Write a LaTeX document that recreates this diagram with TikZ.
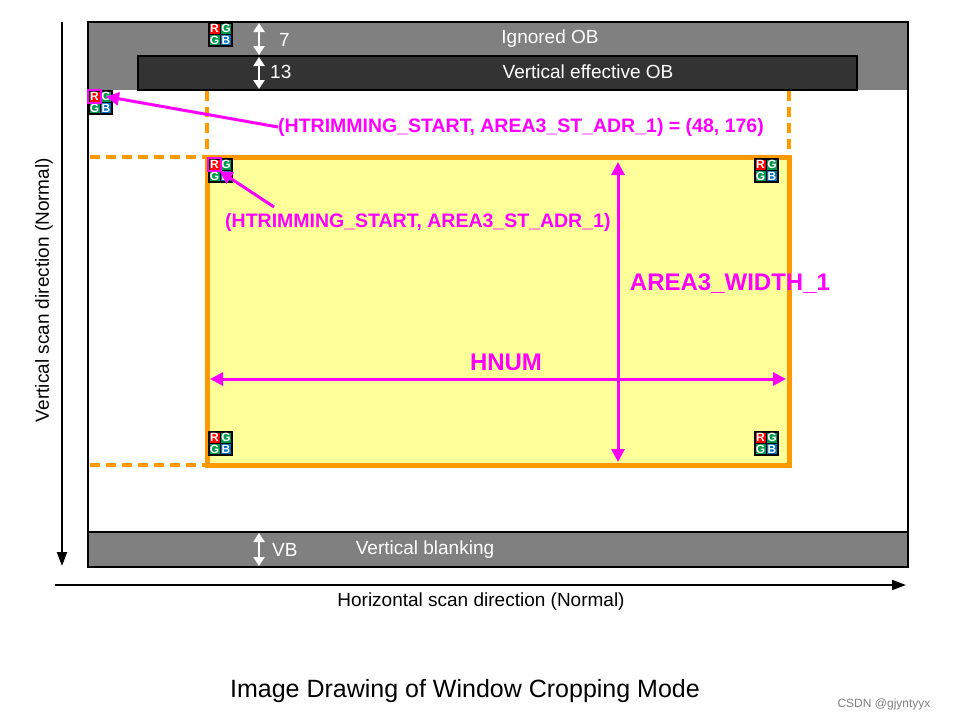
\documentclass[tikz,border=0pt]{standalone}
\usepackage{fontspec}
\setmainfont{Liberation Sans}
\usetikzlibrary{arrows.meta}
\definecolor{mag}{RGB}{255,0,255}
\definecolor{org}{RGB}{255,153,0}
\definecolor{yel}{RGB}{255,255,153}
\definecolor{gr}{RGB}{128,128,128}
\definecolor{dk}{RGB}{51,51,51}
\definecolor{cR}{RGB}{255,0,0}
\definecolor{cG}{RGB}{0,153,76}
\definecolor{cB}{RGB}{0,112,192}
\tikzset{
 lab/.style={font=\fontsize{19}{21}\selectfont,inner sep=0pt},
 wlab/.style={lab,text=white},
 mlab/.style={font=\bfseries\fontsize{19.5}{21}\selectfont,text=mag,inner sep=0pt,anchor=west},
 blab/.style={font=\bfseries\fontsize{24}{27}\selectfont,text=mag,inner sep=0pt},
 cell/.style={draw=black,line width=1.5pt,minimum size=11.5pt,inner sep=0pt,font=\bfseries\fontsize{12}{12}\selectfont,text=white},
 wdim/.style={white,line width=2.5pt,{Triangle[width=11pt,length=9pt]}-{Triangle[width=11pt,length=9pt]}},
 mtip/.style={mag,line width=3pt,{Triangle[width=13pt,length=13pt]}-{Triangle[width=13pt,length=13pt]}},
 mdim/.style={mag,line width=3pt,-{Triangle[width=13pt,length=13pt]}},
 odash/.style={org,line width=3.5pt,dash pattern=on 10pt off 6pt},
}
\newcommand{\rgb}[4]{% x,y,name,highlight
 \node[cell,fill=cR,anchor=north west] (#3r) at (#1,#2) {R};
 \node[cell,fill=cG,anchor=north west] (#3g) at (#1+11.5,#2) {G};
 \node[cell,fill=cG,anchor=north west] (#3h) at (#1,#2+11.5) {G};
 \node[cell,fill=cB,anchor=north west] (#3b) at (#1+11.5,#2+11.5) {B};
 \ifx#4y\draw[mag,line width=2pt] (#3r.north west) rectangle (#3r.south east);\fi
}
\begin{document}
\begin{tikzpicture}[x=1pt,y=-1pt]
\useasboundingbox (0,0) rectangle (960,721);
% frames
\draw[fill=white,line width=2pt] (88,22) rectangle (908,532);
\fill[gr] (89,23) rectangle (907,90);
\draw[fill=dk,line width=1.5pt] (138,56) rectangle (857,90);
\draw[line width=2pt] (88,22) rectangle (908,532);
\draw[fill=gr,line width=2pt] (88,532) rectangle (908,567);
% dashed guides
\draw[odash] (207,91) -- (207,155);
\draw[odash] (789,91) -- (789,155);
\draw[odash] (90,157) -- (205,157);
\draw[odash] (90,465) -- (205,465);
% window
\draw[org,fill=yel,line width=5pt] (207,157) rectangle (789,465);
% dims white
\draw[wdim] (259,23) -- (259,55);
\draw[wdim] (259,57) -- (259,89);
\draw[wdim] (259,533) -- (259,566);
\node[wlab,anchor=west] at (279,40) {7};
\node[wlab,anchor=west] at (270,72) {13};
\node[wlab] at (550,39) {Ignored OB};
\node[wlab] at (588,72) {Vertical effective OB};
\node[wlab,anchor=west] at (272,550) {VB};
\node[wlab] at (425,550) {Vertical blanking};
% RGB blocks
\rgb{208}{22}{a}{n}
\rgb{88}{90}{b}{y}
\rgb{208}{158}{c}{y}
\rgb{754}{158}{d}{n}
\rgb{208}{431}{e}{n}
\rgb{754}{431}{f}{n}
% magenta dims
\draw[mtip] (618,162) -- (618,462);
\draw[mtip] (210,379) -- (786,379);
\node[blab] at (506,362) {HNUM};
\node[blab] at (730,284) {AREA3\_WIDTH\_1};
\node[mlab] (t1) at (278,127) {(HTRIMMING\_START, AREA3\_ST\_ADR\_1) = (48, 176)};
\node[mlab] (t2) at (225,222) {(HTRIMMING\_START, AREA3\_ST\_ADR\_1)};
\draw[mdim] (t1.west) -- (bg.center);
\draw[mdim] (274,207) -- (cg.south west);
% scan arrows
\draw[line width=2pt,-{Triangle[width=10pt,length=14pt]}] (62,22) -- (62,566);
\draw[line width=2pt,-{Triangle[width=10pt,length=14pt]}] (55,585) -- (906,585);
\node[lab,rotate=90] at (44,290) {Vertical scan direction (Normal)};
\node[lab] at (481,602) {Horizontal scan direction (Normal)};
\node[inner sep=0pt,font=\fontsize{25}{28}\selectfont] at (465,691) {Image Drawing of Window Cropping Mode};
\node[inner sep=0pt,font=\fontsize{12}{13}\selectfont,text=gray] at (884,704) {CSDN @gjyntyyx};
\end{tikzpicture}
\end{document}
